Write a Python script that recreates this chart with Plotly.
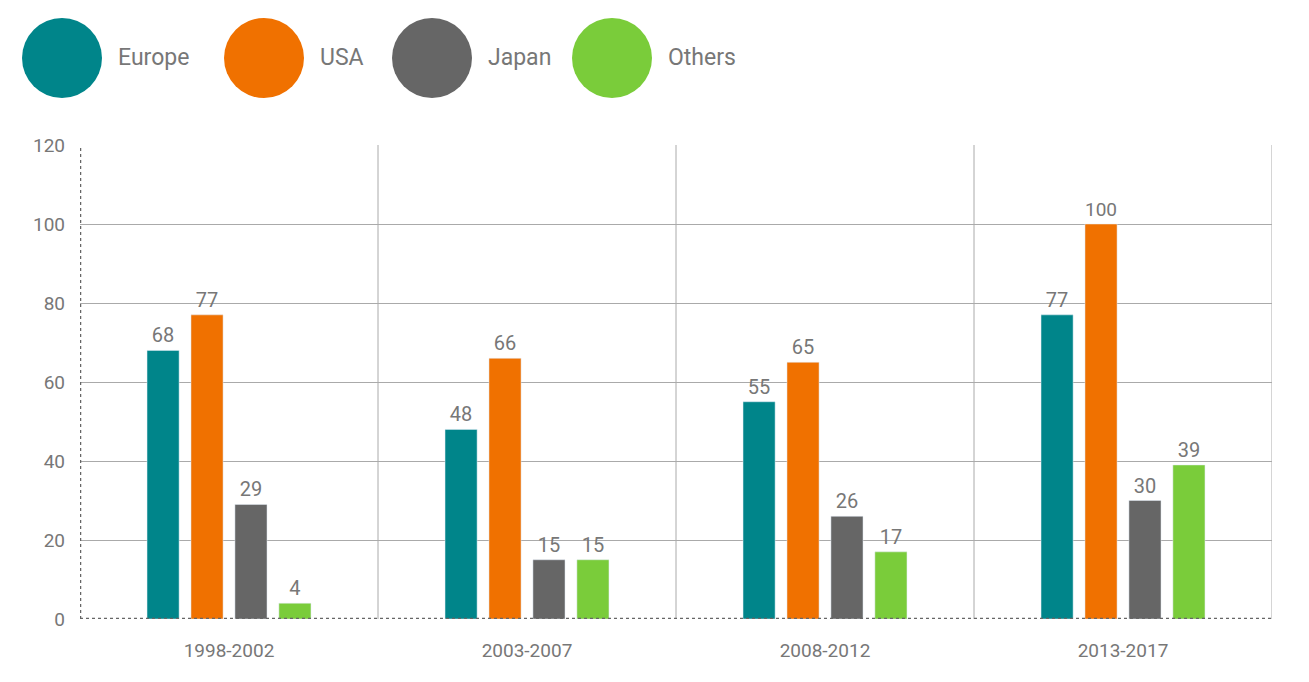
import plotly.graph_objects as go

periods = ["1998-2002", "2003-2007", "2008-2012", "2013-2017"]
series = ["Europe", "USA", "Japan", "Others"]
europe = [68, 48, 55, 77]
usa = [77, 66, 65, 100]
japan = [29, 15, 26, 30]
others = [4, 15, 17, 39]
colors = ["#00858A", "#F07100", "#666666", "#7ACC3A"]
values = [europe, usa, japan, others]

fig = go.Figure()
for name, vals, c in zip(series, values, colors):
    fig.add_trace(go.Bar(x=periods, y=vals, name=name, marker_color=c,
                         text=[str(v) for v in vals], textposition="outside",
                         textfont=dict(size=20, color="#777777"), cliponaxis=False))

shapes = []
for xv in [0.5, 1.5, 2.5, 3.5]:
    shapes.append(dict(type="line", xref="x", yref="y", x0=xv, x1=xv, y0=0, y1=120,
                       line=dict(color="#AAAAAA", width=1)))
shapes.append(dict(type="line", xref="x", yref="y", x0=-0.5, x1=-0.5, y0=0, y1=120,
                   line=dict(color="#666666", width=2.5, dash="dot")))
shapes.append(dict(type="line", xref="x", yref="y", x0=-0.5, x1=3.5, y0=0, y1=0,
                   line=dict(color="#666666", width=2.5, dash="dot")))

annotations = []
leg_x = [62, 264, 432, 612]
for name, c, px in zip(series, colors, leg_x):
    r = 40
    shapes.append(dict(type="circle", xref="paper", yref="paper",
                       x0=(px - r - 80) / 1192, x1=(px + r - 80) / 1192,
                       y0=(619 - 58 - r) / 474, y1=(619 - 58 + r) / 474,
                       fillcolor=c, line=dict(width=0)))
    annotations.append(dict(xref="paper", yref="paper", x=(px + r + 14 - 80) / 1192,
                            y=(619 - 58) / 474, text=name, showarrow=False,
                            xanchor="left", yanchor="middle",
                            font=dict(size=23, color="#777777")))

fig.update_layout(
    width=1309, height=682, barmode="group", bargap=0.41, bargroupgap=0.27,
    plot_bgcolor="white", paper_bgcolor="white", showlegend=False,
    margin=dict(l=72, r=45, t=137, b=71),
    font=dict(family="Roboto", color="#777777"),
    shapes=shapes, annotations=annotations,
    xaxis=dict(range=[-0.5, 3.5], showgrid=False, showline=False,
               tickfont=dict(size=19, color="#777777"), ticks="", ticklabelstandoff=18),
    yaxis=dict(range=[0, 120], dtick=20, showgrid=True, gridcolor="#AAAAAA",
               zeroline=False, showline=False, ticks="", ticklabelstandoff=14,
               tickfont=dict(size=19, color="#777777")),
)
fig.write_html("out.html")
